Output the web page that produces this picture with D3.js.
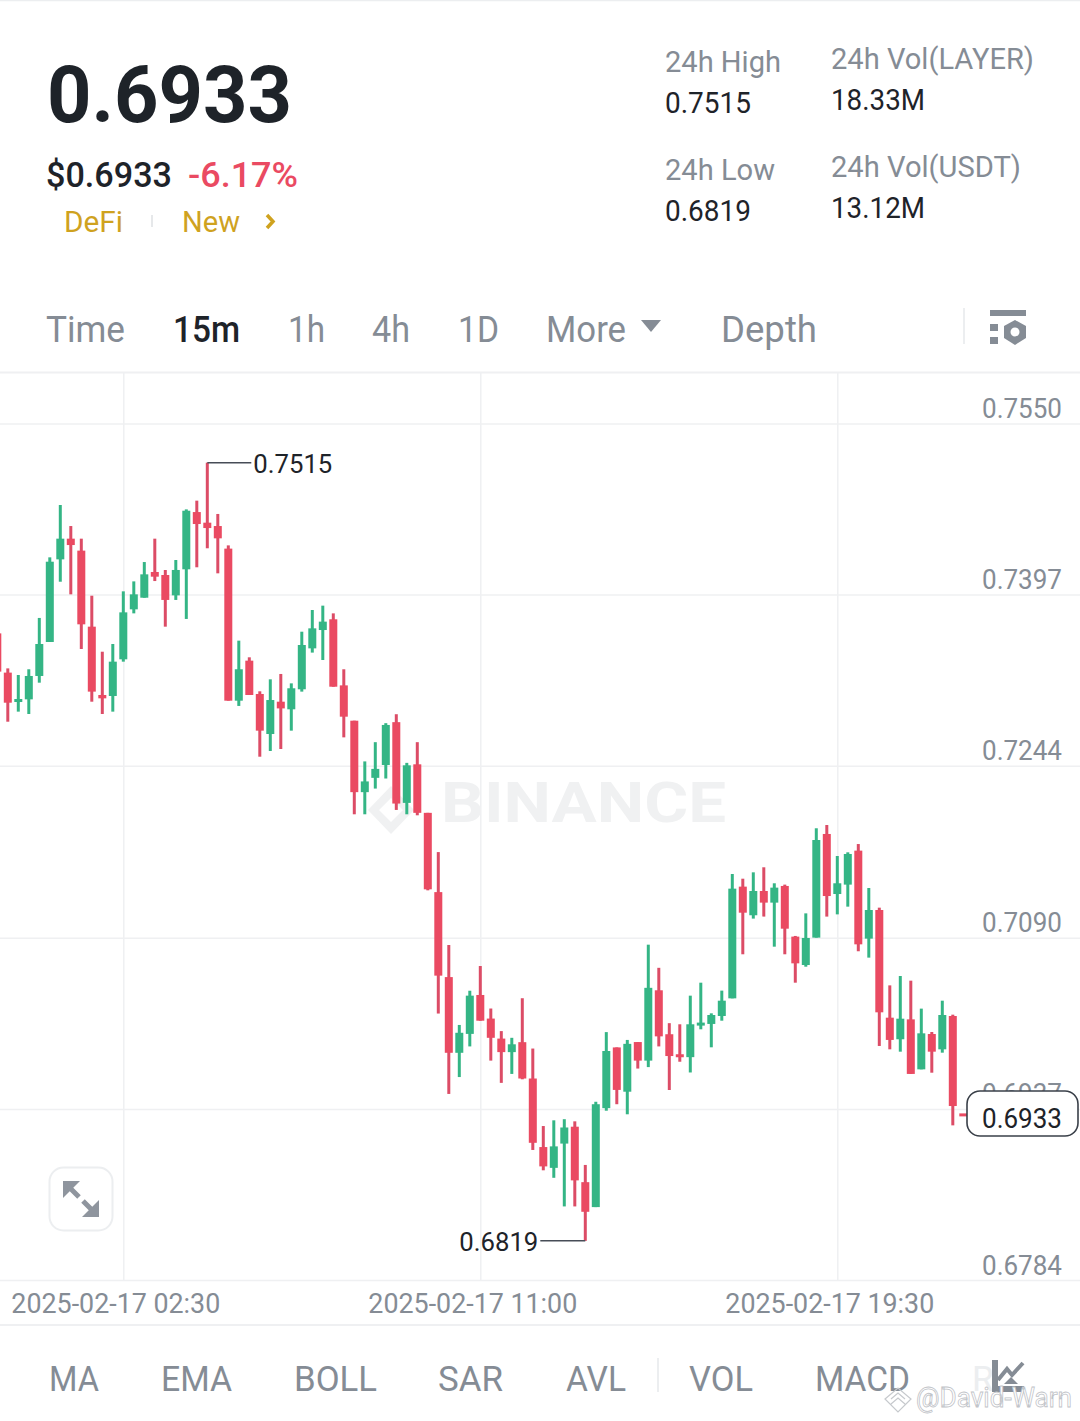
<!DOCTYPE html>
<html>
<head>
<meta charset="utf-8">
<script src="https://cdnjs.cloudflare.com/ajax/libs/d3/7.8.5/d3.min.js"></script>
<style>
  html, body { margin: 0; padding: 0; background: #fff; }
  svg { display: block; }
  text { font-family: Roboto, sans-serif; }
</style>
</head>
<body>
<div id="chart"></div>
<script>
// candle values, 15m candles, first one is partly off the left edge
var firstCandleTime = "2025-02-16T23:30:00Z";
var candleMinutes = 15;

var candleOpens = [
  0.73623, 0.73272, 0.73012, 0.73033, 0.73242, 0.73546, 0.74285, 0.74470, 0.74363, 0.73683,
  0.73072, 0.73063, 0.73391, 0.73838, 0.73942, 0.74172, 0.74145, 0.73963, 0.74196, 0.74708,
  0.74613, 0.74583, 0.74381, 0.73021, 0.73379, 0.73081, 0.72723, 0.73012, 0.72944, 0.73123,
  0.73489, 0.73653, 0.73749, 0.73158, 0.72842, 0.72203, 0.72331, 0.72446, 0.72829, 0.72107,
  0.72452, 0.72018, 0.71309, 0.70549, 0.69872, 0.70041, 0.70389, 0.70178, 0.69999, 0.69878,
  0.69967, 0.69642, 0.69029, 0.68843, 0.69060, 0.69211, 0.68715, 0.68492, 0.69377, 0.69920,
  0.69524, 0.69968, 0.69802, 0.70431, 0.70038, 0.69859, 0.69833, 0.70121, 0.70130, 0.70201,
  0.70359, 0.71358, 0.71102, 0.71319, 0.71215, 0.71364, 0.70911, 0.70657, 0.70902, 0.71829,
  0.71292, 0.71376, 0.71680, 0.70893, 0.71149, 0.70186, 0.69993, 0.70171, 0.69724, 0.70040,
  0.69903, 0.70201, 0.6933
];
var candleCloses = [
  0.73281, 0.73003, 0.73036, 0.73242, 0.73528, 0.74264, 0.74470, 0.74413, 0.73704, 0.73102,
  0.73042, 0.73370, 0.73811, 0.73972, 0.74151, 0.74130, 0.73922, 0.74190, 0.74720, 0.74601,
  0.74565, 0.74473, 0.73021, 0.73302, 0.73072, 0.72753, 0.73027, 0.72952, 0.73132, 0.73519,
  0.73668, 0.73728, 0.73146, 0.72878, 0.72203, 0.72299, 0.72411, 0.72804, 0.72101, 0.72443,
  0.72018, 0.71334, 0.70562, 0.69872, 0.70051, 0.70383, 0.70159, 0.70006, 0.69878, 0.69948,
  0.69642, 0.69067, 0.68856, 0.69035, 0.69204, 0.68731, 0.68450, 0.69412, 0.69888, 0.69540,
  0.69952, 0.69802, 0.70453, 0.70019, 0.69843, 0.69833, 0.70127, 0.70142, 0.70210, 0.70338,
  0.71340, 0.71125, 0.71319, 0.71215, 0.71349, 0.70982, 0.70672, 0.70899, 0.71775, 0.71274,
  0.71388, 0.71650, 0.70842, 0.71149, 0.70234, 0.69987, 0.70177, 0.69683, 0.70046, 0.69882,
  0.70210, 0.69396, 0.6933
];
var candleHighs = [
  0.73623, 0.73310, 0.73251, 0.73302, 0.73761, 0.74303, 0.74771, 0.74583, 0.74470, 0.73960,
  0.73459, 0.73528, 0.73999, 0.74088, 0.74261, 0.74470, 0.74190, 0.74279, 0.74732, 0.74810,
  0.75150, 0.74691, 0.74410, 0.73558, 0.73409, 0.73105, 0.73212, 0.73260, 0.73176, 0.73638,
  0.73832, 0.73871, 0.73802, 0.73302, 0.72842, 0.72478, 0.72650, 0.72820, 0.72900, 0.72465,
  0.72650, 0.72018, 0.71667, 0.70836, 0.70121, 0.70427, 0.70648, 0.70268, 0.70066, 0.70006,
  0.70360, 0.69910, 0.69217, 0.69268, 0.69278, 0.69259, 0.68869, 0.69434, 0.70057, 0.69920,
  0.69987, 0.69968, 0.70839, 0.70632, 0.70137, 0.70127, 0.70383, 0.70499, 0.70225, 0.70428,
  0.71471, 0.71429, 0.71486, 0.71531, 0.71388, 0.71376, 0.70917, 0.71119, 0.71880, 0.71909,
  0.71632, 0.71665, 0.71739, 0.71346, 0.71170, 0.70475, 0.70559, 0.70517, 0.70267, 0.70058,
  0.70338, 0.70213, 0.6933
];
var candleLows = [
  0.73281, 0.72833, 0.72923, 0.72902, 0.73182, 0.73546, 0.74085, 0.73972, 0.73483, 0.73012,
  0.72902, 0.72923, 0.73370, 0.73802, 0.73942, 0.74091, 0.73683, 0.73922, 0.73752, 0.74214,
  0.74384, 0.74160, 0.73021, 0.72974, 0.73072, 0.72520, 0.72571, 0.72589, 0.72753, 0.73102,
  0.73451, 0.73385, 0.73146, 0.72693, 0.72005, 0.72005, 0.72235, 0.72325, 0.72044, 0.72005,
  0.71996, 0.71325, 0.70223, 0.69504, 0.69655, 0.69929, 0.70159, 0.69802, 0.69603, 0.69683,
  0.69635, 0.69003, 0.68821, 0.68754, 0.68498, 0.68498, 0.6819, 0.68492, 0.69354, 0.69412,
  0.69322, 0.69731, 0.69744, 0.69929, 0.69539, 0.69792, 0.69696, 0.70082, 0.69921, 0.70159,
  0.70359, 0.70753, 0.71072, 0.71090, 0.70821, 0.70753, 0.70499, 0.70642, 0.70902, 0.71090,
  0.71110, 0.71179, 0.70780, 0.70723, 0.69933, 0.69903, 0.69882, 0.69683, 0.69724, 0.69694,
  0.69873, 0.69223, 0.6933
];

// axis ticks
var priceTicks = [0.7550, 0.7397, 0.7244, 0.7090, 0.6937, 0.6784];
var timeTicks = ["2025-02-17T02:30:00Z", "2025-02-17T11:00:00Z", "2025-02-17T19:30:00Z"];

// header + toolbar text
var highPrice = 0.7515;
var lowPrice = 0.6819;
var lastPrice = 0.6933;
var statLabels = ["24h High", "24h Low", "24h Vol(LAYER)", "24h Vol(USDT)"];
var statValues = ["0.7515", "0.6819", "18.33M", "13.12M"];
var tabNames = ["Time", "15m", "1h", "4h", "1D", "More", "Depth"];
var indicatorNames = ["MA", "EMA", "BOLL", "SAR", "AVL", "VOL", "MACD"];

// layout only, x + width of the labels above
var statPos = [[665, 72, 116], [665, 180, 110], [831, 69, 203], [831, 177, 190]];
var statValueWidth = [86, 86, 94, 94];
var tabPos = [[46, 79], [173, 67], [288, 37], [372, 38], [458, 41], [546, 80], [721, 96]];
var indicatorPos = [[49, 50], [161, 71], [294, 83], [438, 65], [566, 60], [689, 64], [815, 95]];

// Define svg area
var svgWidth = 1080;
var svgHeight = 1421;
var chartTop = 373;
var chartBottom = 1280;

var green = "#34b585";
var red = "#ea4a62";
var wickRed = "#dc4c66";
var gray = "#858c95";
var dark = "#1e2329";
var gold = "#cfa21f";
var lineColor = "#eff0f2";

var svg = d3.select("#chart")
  .append("svg")
  .attr("width", svgWidth)
  .attr("height", svgHeight);

svg.append("rect").attr("width", svgWidth).attr("height", svgHeight).attr("fill", "#fff");

// width squeezes the glyphs so the text fills the same box as the reference
function addText(x, y, str, size, fill, weight, width) {
  var t = svg.append("text")
    .attr("x", x)
    .attr("y", y)
    .attr("font-size", size)
    .attr("font-weight", weight || 400)
    .attr("fill", fill)
    .text(str);
  if (width) {
    t.attr("textLength", width).attr("lengthAdjust", "spacingAndGlyphs");
  }
  return t;
}

function addLine(x1, y1, x2, y2, color, w) {
  svg.append("line")
    .attr("x1", x1).attr("y1", y1).attr("x2", x2).attr("y2", y2)
    .attr("stroke", color)
    .attr("stroke-width", w || 1.5);
}

// scales
var xScale = d3.scaleTime()
  .domain([new Date(timeTicks[0]), new Date(timeTicks[2])])
  .range([123.3, 837.3]);

var yScale = d3.scaleLinear()
  .domain([0.6784, 0.7550])
  .range([chartBottom, 423.5]);

function candleTime(i) {
  return new Date(new Date(firstCandleTime).getTime() + i * candleMinutes * 60000);
}

// header
addLine(0, 0.5, svgWidth, 0.5, "#eceef0", 1.5);
addText(47, 122, lastPrice.toFixed(4), 80, dark, 700, 245);
addText(46, 187, "$" + lastPrice.toFixed(4), 35, dark, 500, 126);
addText(188, 187, "-6.17%", 35, red, 500, 110);
addText(64, 232, "DeFi", 29, gold, 400, 59);
addText(182, 232, "New", 29, gold, 400, 58);
addLine(152, 215, 152, 227, "#e6e8ea", 2);
svg.append("path")
  .attr("d", "M267 215 L273 221.5 L267 228")
  .attr("fill", "none")
  .attr("stroke", gold)
  .attr("stroke-width", 3.5);

statLabels.forEach(function(label, i) {
  addText(statPos[i][0], statPos[i][1], label, 30, gray, 400, statPos[i][2]);
  addText(statPos[i][0], statPos[i][1] + 41, statValues[i], 30, dark, 400, statValueWidth[i]);
});

// timeframe tabs
tabNames.forEach(function(name, i) {
  var on = name === "15m";
  addText(tabPos[i][0], 342, name, 36, on ? dark : gray, on ? 500 : 400, tabPos[i][1]);
});
svg.append("path").attr("d", "M641 320 L661 320 L651 332 Z").attr("fill", gray);
addLine(964, 308, 964, 344, "#eceef0", 2);

// settings icon
svg.append("rect").attr("x", 990).attr("y", 310).attr("width", 36).attr("height", 6).attr("fill", gray);
svg.append("rect").attr("x", 990).attr("y", 324).attr("width", 8).attr("height", 7).attr("fill", gray);
svg.append("rect").attr("x", 990).attr("y", 337).attr("width", 8).attr("height", 7).attr("fill", gray);
svg.append("path")
  .attr("d", "M1015 320 L1026 326 L1026 338 L1015 345 L1004 338 L1004 326 Z")
  .attr("fill", gray);
svg.append("circle").attr("cx", 1015).attr("cy", 332).attr("r", 4.5).attr("fill", "#fff");

// chart frame
addLine(0, 372.5, svgWidth, 372.5, lineColor, 2);
addLine(0, 1325, svgWidth, 1325, lineColor, 2);

// vertical grid + time labels
var xAxis = svg.append("g")
  .attr("transform", "translate(0," + chartBottom + ")")
  .call(d3.axisBottom(xScale)
    .tickValues(timeTicks.map(function(t) { return new Date(t); }))
    .tickSize(chartTop - chartBottom)
    .tickPadding(0)
    .tickFormat(d3.utcFormat("%Y-%m-%d %H:%M")));
xAxis.select(".domain").remove();
xAxis.selectAll("line").attr("stroke", lineColor).attr("stroke-width", 1.5);
xAxis.selectAll("text")
  .attr("y", 33)
  .attr("dy", 0)
  .attr("dx", -8)
  .attr("font-size", 27)
  .attr("textLength", 209)
  .attr("lengthAdjust", "spacingAndGlyphs")
  .attr("font-family", "Roboto, sans-serif")
  .attr("fill", gray);

// horizontal grid + price labels
var yAxis = svg.append("g")
  .call(d3.axisRight(yScale)
    .tickValues(priceTicks)
    .tickSize(svgWidth)
    .tickFormat(d3.format(".4f")));
yAxis.select(".domain").remove();
yAxis.selectAll("line").attr("stroke", lineColor).attr("stroke-width", 1.5);
yAxis.selectAll("text")
  .attr("x", 1062)
  .attr("dy", -6)
  .attr("y", 0)
  .attr("text-anchor", "end")
  .attr("font-size", 27)
  .attr("textLength", 80)
  .attr("lengthAdjust", "spacingAndGlyphs")
  .attr("font-family", "Roboto, sans-serif")
  .attr("fill", gray);

// binance watermark
addText(441, 822, "BINANCE", 55, "#f0f1f2", 700, 285);
svg.append("path")
  .attr("d", "M391 786 L414 810 L391 834 L368 810 Z M391 798 L379 810 L391 822 L403 810 Z")
  .attr("fill", "#f0f1f2")
  .attr("fill-rule", "evenodd");

// candles
var candles = candleOpens.map(function(open, i) {
  return {
    time: candleTime(i),
    open: open,
    close: candleCloses[i],
    high: candleHighs[i],
    low: candleLows[i]
  };
});

var candleGroup = svg.append("g");

candleGroup.selectAll(".wick")
  .data(candles)
  .enter()
  .append("line")
  .attr("class", "wick")
  .attr("x1", d => xScale(d.time))
  .attr("x2", d => xScale(d.time))
  .attr("y1", d => yScale(d.high))
  .attr("y2", d => yScale(d.low))
  .attr("stroke", d => d.close >= d.open ? green : wickRed)
  .attr("stroke-width", 3);

candleGroup.selectAll(".body")
  .data(candles)
  .enter()
  .append("rect")
  .attr("class", "body")
  .attr("x", d => xScale(d.time) - 4)
  .attr("width", 8)
  .attr("y", d => yScale(Math.max(d.open, d.close)))
  .attr("height", d => Math.max(yScale(Math.min(d.open, d.close)) - yScale(Math.max(d.open, d.close)), 3))
  .attr("fill", d => d.close > d.open ? green : red);

// high / low markers
var highIndex = candleHighs.indexOf(highPrice);
var lowIndex = candleLows.indexOf(lowPrice);
var highX = xScale(candles[highIndex].time);
var lowX = xScale(candles[lowIndex].time);

addLine(highX, yScale(highPrice), highX + 44, yScale(highPrice), "#474d57", 1.5);
addText(highX + 46, yScale(highPrice) + 10, highPrice.toFixed(4), 26, dark, 400, 79);
addLine(lowX, yScale(lowPrice), lowX - 45, yScale(lowPrice), "#474d57", 1.5);
addText(lowX - 47, yScale(lowPrice) + 10, lowPrice.toFixed(4), 26, dark, 400, 79)
  .attr("text-anchor", "end");

// last price tag
svg.append("rect")
  .attr("x", 967).attr("y", 1091)
  .attr("width", 111).attr("height", 45)
  .attr("rx", 13)
  .attr("fill", "#fff")
  .attr("stroke", "#3a4049")
  .attr("stroke-width", 1.6);
addText(1062, yScale(lastPrice) + 15, lastPrice.toFixed(4), 27, dark, 400, 80)
  .attr("text-anchor", "end");

// expand button
svg.append("rect")
  .attr("x", 49.5).attr("y", 1167.5)
  .attr("width", 63).attr("height", 63)
  .attr("rx", 14)
  .attr("fill", "#fff")
  .attr("stroke", "#eceef0")
  .attr("stroke-width", 2);
svg.append("path")
  .attr("d", "M63 1181 L80 1181 L63 1198 Z M99 1217 L82 1217 L99 1200 Z")
  .attr("fill", "#8f959e");
svg.append("path")
  .attr("d", "M69 1187 L79 1197 M93 1211 L83 1201")
  .attr("stroke", "#8f959e")
  .attr("stroke-width", 5);

// indicators row
indicatorNames.forEach(function(name, i) {
  addText(indicatorPos[i][0], 1391, name, 35, gray, 400, indicatorPos[i][1]);
});
addLine(658, 1358, 658, 1392, "#eceef0", 2);
addText(972, 1391, "R", 35, "#eceef0");

// indicator chart icon
svg.append("path")
  .attr("d", "M992 1360 L998 1360 L998 1386 L1024 1386 L1024 1392 L992 1392 Z")
  .attr("fill", gray);
svg.append("path")
  .attr("d", "M998 1380 L1007 1369 L1012 1375 L1023 1363")
  .attr("fill", "none")
  .attr("stroke", gray)
  .attr("stroke-width", 4);
svg.append("path").attr("d", "M1011 1377 L1018 1384 L1004 1384 Z").attr("fill", gray);

// username watermark
addText(916, 1407, "@David-Warn", 27, "#fff", 400, 156)
  .attr("stroke", "#bfc3c8")
  .attr("stroke-width", 0.8);
svg.append("path")
  .attr("d", "M885 1399 L898 1388 L911 1399 L898 1412 Z M891 1399 L898 1393 L905 1399 M891 1404 L898 1398 L905 1404")
  .attr("fill", "none")
  .attr("stroke", "#c6c9cd")
  .attr("stroke-width", 1.2);
</script>
</body>
</html>
